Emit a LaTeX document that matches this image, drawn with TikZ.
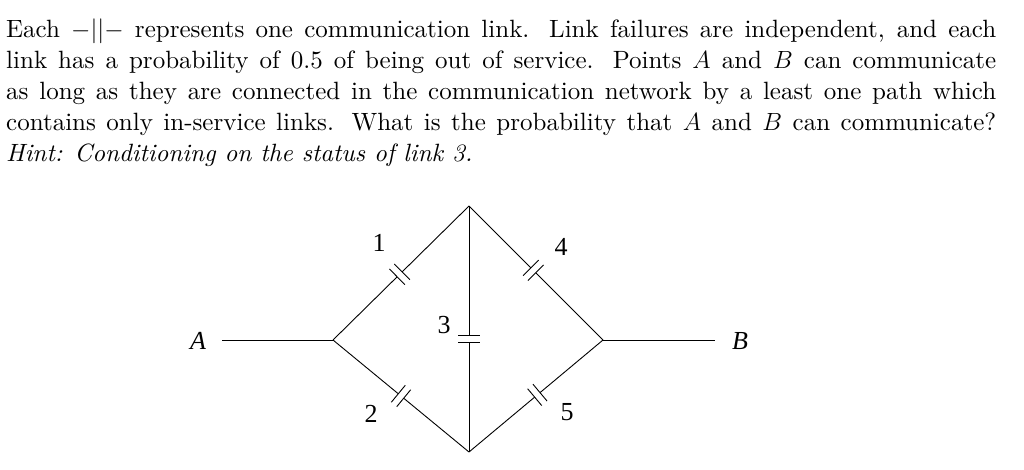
\documentclass[tikz,border=0pt]{standalone}
\usepackage{fontspec}
\setmainfont{lmroman10-regular.otf}[ItalicFont=lmroman10-italic.otf, BoldFont=lmroman10-bold.otf]
\newfontfamily\tnr{Liberation Serif}
\usetikzlibrary{decorations.markings}
\tikzset{
  capat/.style={postaction={decorate,decoration={markings,mark=at position #1 with {
    \fill[white] (-3.5pt,-11pt) rectangle (3.5pt,11pt);
    \draw[line width=0.9pt] (-3.5pt,-11pt)--(-3.5pt,11pt);
    \draw[line width=0.9pt] (3.5pt,-11pt)--(3.5pt,11pt);}}}},
  wire/.style={line width=0.9pt},
  lbl/.style={font=\tnr\fontsize{26}{28}\selectfont, inner sep=0pt},
}
\begin{document}
\begin{tikzpicture}[x=1pt,y=-1pt]
\useasboundingbox (0,0) rectangle (1024,470);
\node[anchor=north west, text width=990pt, align=justify, inner sep=0pt, font=\fontsize{25}{31}\selectfont] (txt) at (6,19)
{Each $-||-$ represents one communication link. Link failures are independent, and each link has a probability of 0.5 of being out of service. Points $A$ and $B$ can communicate as long as they are connected in the communication network by a least one path which contains only in-service links. What is the probability that $A$ and $B$ can communicate? \textit{Hint: Conditioning on the status of link 3.}};
\coordinate (L) at (333,340);
\coordinate (T) at (469,206);
\coordinate (D) at (469,452);
\coordinate (R) at (603,340);
\coordinate (a) at (222,340);
\coordinate (b) at (715,340);
\draw[wire] (a) -- (L);
\draw[wire] (R) -- (b);
\draw[wire, capat=0.49] (L) -- (T);
\draw[wire, capat=0.48] (T) -- (R);
\draw[wire, capat=0.5] (L) -- (D);
\draw[wire, capat=0.51] (D) -- (R);
\draw[wire, capat=0.54] (T) -- (D);
\node[lbl] (A) at (198,341) {\textit{A}};
\node[lbl] (B) at (740,341) {\textit{B}};
\node[lbl] (n1) at (379,243) {1};
\node[lbl] (n4) at (561,247) {4};
\node[lbl] (n3) at (444,325) {3};
\node[lbl] (n2) at (371,414) {2};
\node[lbl] (n5) at (567,412) {5};
\end{tikzpicture}
\end{document}
